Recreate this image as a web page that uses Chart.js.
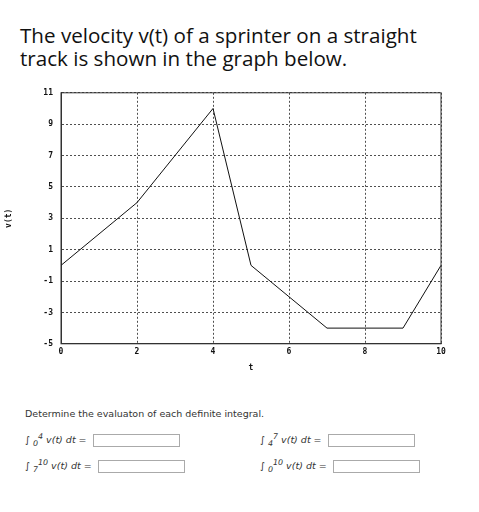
<!DOCTYPE html>
<html>
<head>
<meta charset="utf-8">
<script src="https://cdn.jsdelivr.net/npm/chart.js@4"></script>
<style>
  body { margin: 0; width: 479px; height: 512px; background: #fff; font-family: "Open Sans", sans-serif; position: relative; overflow: hidden; }
  #title { position: absolute; left: 20px; top: 24px; font-size: 20.6px; line-height: 23px; color: #111; }
  #wrap { position: absolute; left: 0; top: 80px; width: 460px; height: 297px; }
  #q { position: absolute; left: 25px; top: 408px; font-family: Verdana, "DejaVu Sans", sans-serif; font-size: 9.5px; color: #333; }
  .row { position: absolute; white-space: nowrap; font-style: italic; }
  .row input { width: 85px; height: 11px; border: 1px solid #aaa; vertical-align: middle; padding: 0; margin-left: 3px; }
</style>
</head>
<body>
<div id="title">The velocity v(t) of a sprinter on a straight<br>track is shown in the graph below.</div>
<div id="wrap"><canvas id="c"></canvas></div>
<div id="q">
  <div style="position:absolute;left:0;top:0;white-space:nowrap">Determine the evaluaton of each definite integral.</div>
  <div class="row" style="left:0;top:24px">∫ <sub>0</sub><sup>4</sup> v(t) dt = <input></div>
  <div class="row" style="left:235px;top:24px">∫ <sub>4</sub><sup>7</sup> v(t) dt = <input></div>
  <div class="row" style="left:0;top:50px">∫ <sub>7</sub><sup>10</sup> v(t) dt = <input></div>
  <div class="row" style="left:235px;top:50px">∫ <sub>0</sub><sup>10</sup> v(t) dt = <input></div>
</div>
<script>
// Data
const times = [0, 2, 4, 5, 7, 9, 10];
const velocity = [0, 4, 10, 0, -4, -4, 0];
const xTicks = [0, 2, 4, 6, 8, 10];
const yTicks = [-5, -3, -1, 1, 3, 5, 7, 9, 11];

const tickFont = { family: '"DejaVu Sans Mono", monospace', size: 8, weight: 'bold' };

// Solid frame around the plot area
const framePlugin = {
    id: 'frame',
    afterDraw(chart) {
        const a = chart.chartArea, ctx = chart.ctx;
        ctx.save();
        ctx.strokeStyle = '#333';
        ctx.lineWidth = 1;
        ctx.strokeRect(a.left, a.top, a.right - a.left, a.bottom - a.top);
        ctx.restore();
    }
};

new Chart(document.getElementById('c'), {
    type: 'line',
    data: {
        datasets: [{
            data: times.map((t, i) => ({ x: t, y: velocity[i] })),
            borderColor: '#111',
            borderWidth: 1,
            pointRadius: 0,
            tension: 0,
            fill: false
        }]
    },
    options: {
        responsive: true,
        maintainAspectRatio: false,
        animation: false,
        layout: { padding: { top: 5, right: 19 } },
        plugins: { legend: { display: false }, tooltip: { enabled: false } },
        scales: {
            x: {
                type: 'linear',
                min: 0, max: 10,
                afterBuildTicks: axis => { axis.ticks = xTicks.map(v => ({ value: v })); },
                ticks: { font: tickFont, color: '#111', maxRotation: 0 },
                grid: { color: '#222', lineWidth: 0.8, drawTicks: false },
                border: { dash: [2, 2], color: '#333' },
                title: { display: true, text: 't', font: tickFont, color: '#111' }
            },
            y: {
                min: -5, max: 11,
                afterBuildTicks: axis => { axis.ticks = yTicks.map(v => ({ value: v })); },
                afterFit: axis => { axis.width = 61; },
                ticks: { font: tickFont, color: '#111', padding: 8 },
                grid: { color: '#222', lineWidth: 0.8, drawTicks: false },
                border: { dash: [2, 2], color: '#333' },
                title: { display: true, text: 'v(t)', font: tickFont, color: '#111' }
            }
        }
    },
    plugins: [framePlugin]
});
</script>
</body>
</html>
